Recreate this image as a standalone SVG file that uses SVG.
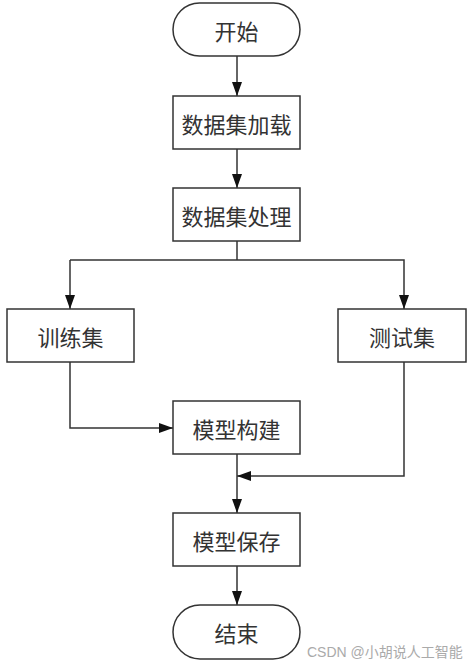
<svg xmlns="http://www.w3.org/2000/svg" width="474" height="667" viewBox="0 0 474 667">
<defs>
<style>
.n{fill:#fff;stroke:#333;stroke-width:1.5}
.t{font-family:"Noto Sans CJK SC","Noto Sans",sans-serif;font-size:22px;fill:#333;text-anchor:middle;dominant-baseline:central}
.c{fill:none;stroke:#333;stroke-width:1.5}
.w{font-family:"Liberation Sans","Noto Sans CJK SC",sans-serif;font-size:14px;fill:#aaa}
</style>
<marker id="ah" viewBox="0 0 14 10" refX="14" refY="5" markerWidth="14" markerHeight="10" markerUnits="userSpaceOnUse" orient="auto">
<path d="M0,0 L14,5 L0,10 Z" fill="#111"/>
</marker>
</defs>
<rect width="474" height="667" fill="#fff"/>
<g id="connectors">
<line class="c" x1="237" y1="56" x2="237" y2="96" marker-end="url(#ah)"/>
<line class="c" x1="237" y1="149" x2="237" y2="188" marker-end="url(#ah)"/>
<polyline class="c" points="237,241 237,260"/>
<polyline class="c" points="70,260 404,260 404,309" marker-end="url(#ah)"/>
<line class="c" x1="70" y1="260" x2="70" y2="309" marker-end="url(#ah)"/>
<polyline class="c" points="70,362 70,428 173,428" marker-end="url(#ah)"/>
<polyline class="c" points="404,362 404,476 237,476" marker-end="url(#ah)"/>
<line class="c" x1="237" y1="454" x2="237" y2="513" marker-end="url(#ah)"/>
<line class="c" x1="237" y1="566" x2="237" y2="605" marker-end="url(#ah)"/>
</g>
<g id="start"><rect class="n" x="173" y="3" width="127" height="53" rx="26.5"/><text class="t" x="236.5" y="30">开始</text></g>
<g id="load"><rect class="n" x="173" y="96" width="127" height="53"/><text class="t" x="236.5" y="123">数据集加载</text></g>
<g id="process"><rect class="n" x="173" y="188" width="127" height="53"/><text class="t" x="236.5" y="215">数据集处理</text></g>
<g id="train"><rect class="n" x="7" y="309" width="127" height="53"/><text class="t" x="70.5" y="336">训练集</text></g>
<g id="test"><rect class="n" x="338" y="309" width="128" height="53"/><text class="t" x="402" y="336">测试集</text></g>
<g id="build"><rect class="n" x="173" y="401" width="127" height="53"/><text class="t" x="236.5" y="428">模型构建</text></g>
<g id="save"><rect class="n" x="173" y="513" width="127" height="53"/><text class="t" x="236.5" y="540">模型保存</text></g>
<g id="end"><rect class="n" x="173" y="605" width="127" height="54" rx="27"/><text class="t" x="236.5" y="632">结束</text></g>
<text class="w" x="307" y="657">CSDN @小胡说人工智能</text>
</svg>
